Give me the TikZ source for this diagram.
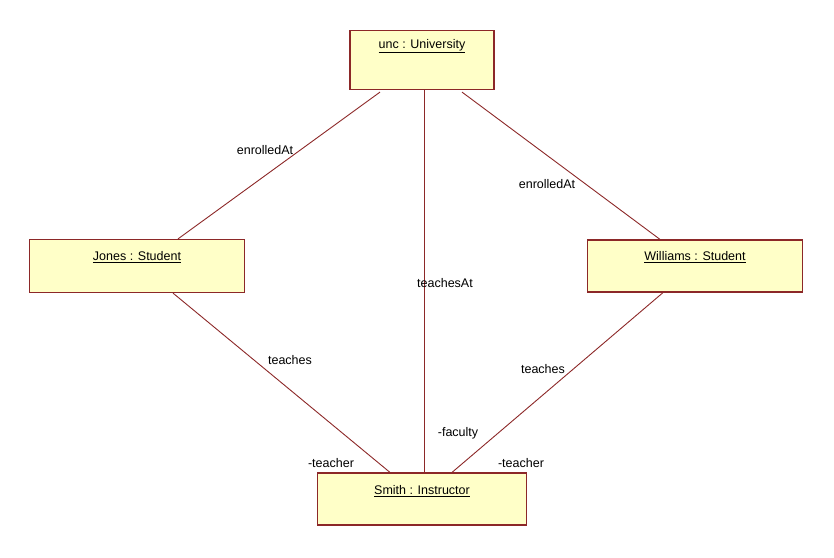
\documentclass[tikz,border=0pt]{standalone}
\usepackage{fontspec}
\setmainfont{Liberation Sans}
\usetikzlibrary{calc}
\definecolor{umlline}{RGB}{140,40,40}
\definecolor{umlfill}{RGB}{255,255,200}
\newcommand{\objname}[1]{\underline{#1}}

\begin{document}
\begin{tikzpicture}[x=1pt,y=-1pt,
    objbox/.style={draw=umlline,fill=umlfill,line width=1.2pt,inner sep=0pt},
    link/.style={draw=umlline,line width=0.9pt},
    lbl/.style={font=\fontsize{12.5}{14}\selectfont,inner sep=1pt}]
            \useasboundingbox (0,0) rectangle (834,557);

            % Objects
            \node[objbox,minimum width=144,minimum height=59] (unc) at (422,60) {};
            \node[objbox,minimum width=215,minimum height=53] (jones) at (137,266) {};
            \node[objbox,minimum width=215,minimum height=52] (williams) at (695,266) {};
            \node[objbox,minimum width=209,minimum height=52] (smith) at (422,499) {};
            \node[lbl] at (422,46) {\objname{unc : University}};
            \node[lbl] at (137,257) {\objname{Jones : Student}};
            \node[lbl] at (695,257) {\objname{Williams : Student}};
            \node[lbl] at (422,491) {\objname{Smith : Instructor}};

            % Links
            \draw[link] ($(unc.south)+(-42,2)$) -- ($(jones.north)+(41,0)$);
            \draw[link] ($(unc.south)+(40,2)$) -- ($(williams.north)+(-35,0)$);
            \draw[link] ($(unc.south)+(2,0)$) -- ($(smith.north)+(2,0)$);
            \draw[link] ($(jones.south)+(36,0)$) -- ($(smith.north)+(-32,0)$);
            \draw[link] ($(williams.south)+(-32,0)$) -- ($(smith.north)+(30,0)$);

            % Labels
            \node[lbl] (l1) at (265,150) {enrolledAt};
            \node[lbl] (l2) at (547,184) {enrolledAt};
            \node[lbl] (l3) at (445,283) {teachesAt};
            \node[lbl] (l4) at (290,360) {teaches};
            \node[lbl] (l5) at (543,369) {teaches};
            \node[lbl] (l6) at (458,433) {-faculty};
            \node[lbl] (l7) at (331,463) {-teacher};
            \node[lbl] (l8) at (521,463) {-teacher};
\end{tikzpicture}
\end{document}
